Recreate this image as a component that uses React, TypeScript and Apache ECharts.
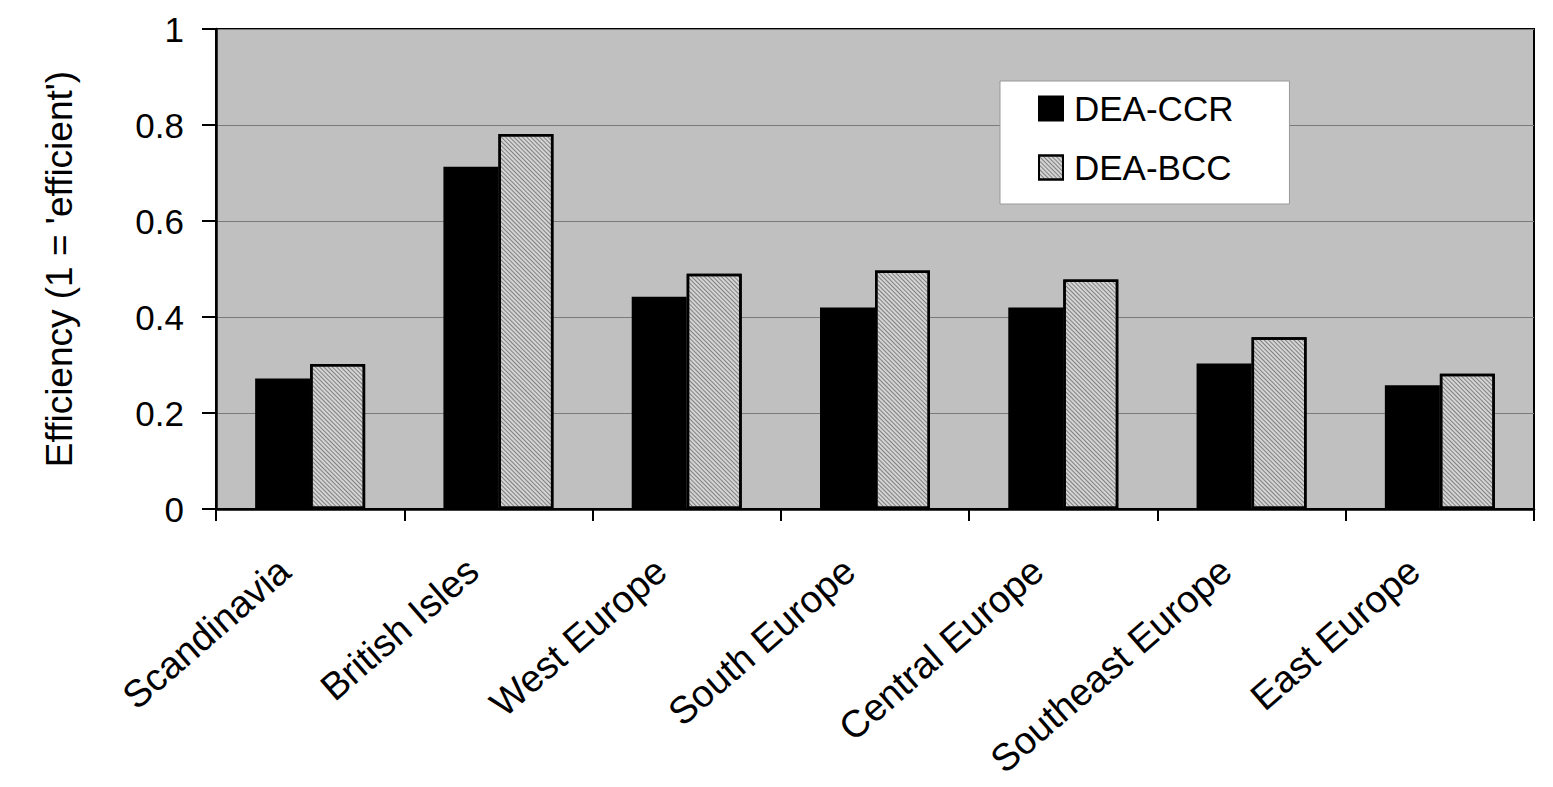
import React, { useEffect, useRef } from 'react'
import * as echarts from 'echarts'

const regions = [
  'Scandinavia',
  'British Isles',
  'West Europe',
  'South Europe',
  'Central Europe',
  'Southeast Europe',
  'East Europe'
]
const deaCcr = [0.272, 0.713, 0.442, 0.42, 0.42, 0.303, 0.258]
const deaBcc = [0.302, 0.781, 0.49, 0.497, 0.478, 0.358, 0.282]
const yTicks = [0, 0.2, 0.4, 0.6, 0.8, 1]

const font = 'Liberation Sans, Arial, sans-serif'

export default function App() {
  const chartRef: any = useRef()

  useEffect(() => {
    const myChart = echarts.init(chartRef.current, null, { renderer: 'svg' })
    const option = {
      animation: false,
      backgroundColor: '#ffffff',
      textStyle: { fontFamily: font, color: '#000' },
      grid: {
        left: 216,
        right: 19,
        top: 29,
        bottom: 278,
        show: true,
        backgroundColor: '#c0c0c0',
        borderColor: '#000',
        borderWidth: 2
      },
      legend: {
        orient: 'vertical',
        left: 1000,
        top: 81,
        backgroundColor: '#fff',
        borderColor: '#999',
        borderWidth: 1,
        padding: [10, 56, 19, 38],
        itemGap: 24,
        itemWidth: 24,
        itemHeight: 24,
        icon: 'rect',
        textStyle: { fontSize: 35, fontFamily: font, color: '#000', padding: [0, 0, 0, 6] },
        data: ['DEA-CCR', 'DEA-BCC']
      },
      xAxis: {
        type: 'category',
        data: regions,
        axisLine: { lineStyle: { color: '#000', width: 2.5 } },
        axisTick: { show: true, length: 12, lineStyle: { color: '#000', width: 2 } },
        axisLabel: {
          rotate: 41,
          interval: 0,
          margin: 34,
          fontSize: 38,
          fontFamily: font,
          color: '#000',
          padding: [0, 34, 0, 0]
        }
      },
      yAxis: {
        type: 'value',
        min: 0,
        max: 1,
        interval: 0.2,
        name: "Efficiency (1 = 'efficient')",
        nameLocation: 'middle',
        nameGap: 138,
        nameTextStyle: { fontSize: 37, fontFamily: font, color: '#000' },
        axisLine: { show: true, lineStyle: { color: '#000', width: 2.5 } },
        axisTick: { show: true, length: 14, lineStyle: { color: '#000', width: 2 } },
        axisLabel: {
          margin: 32,
          fontSize: 35,
          fontFamily: font,
          color: '#000',
          formatter: (v: number) => (yTicks.includes(v) ? String(v) : '')
        },
        splitLine: { show: true, lineStyle: { color: '#7a7a7a', width: 1 } }
      },
      series: [
        {
          name: 'DEA-CCR',
          type: 'bar',
          data: deaCcr,
          barWidth: 55,
          barGap: '0%',
          itemStyle: { color: '#000', borderColor: '#000', borderWidth: 2 }
        },
        {
          name: 'DEA-BCC',
          type: 'bar',
          data: deaBcc,
          barWidth: 55,
          itemStyle: {
            color: '#d4d4d4',
            borderColor: '#000',
            borderWidth: 2.5,
            decal: {
              symbol: 'rect',
              color: 'rgba(60,60,60,0.55)',
              dashArrayX: [1, 0],
              dashArrayY: [1, 2],
              rotation: Math.PI / 4,
              symbolSize: 1
            }
          }
        }
      ]
    }
    myChart.setOption(option)
    return () => {
      myChart.dispose()
    }
  }, [])

  return (
    <div
      ref={chartRef}
      style={{ position: 'fixed', left: 0, top: 0, width: '1553px', height: '787px' }}
    />
  )
}
